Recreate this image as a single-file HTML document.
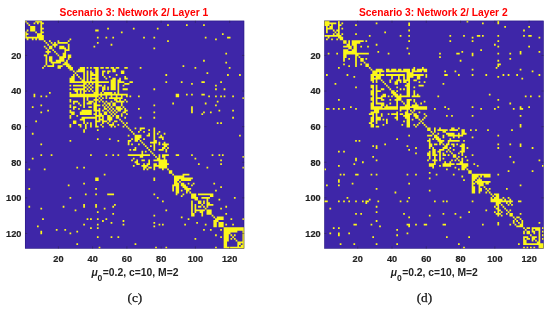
<!DOCTYPE html><html><head><meta charset="utf-8"><title>Scenario 3</title><style>html,body{margin:0;padding:0;background:#fff}svg{display:block}text{font-family:"Liberation Sans",sans-serif;font-weight:bold;fill:#222}</style></head><body>
<svg width="550" height="310" viewBox="0 0 550 310">
<rect width="550" height="310" fill="#fff"/>
<rect x="25.0" y="20.7" width="219.20" height="227.90" fill="#3E26A8"/>
<path fill="#FBF71A" d="M25.00 20.70H26.71V22.48H25.00zM35.27 20.70H42.12V22.48H35.27zM26.71 22.48H28.43V24.26H26.71zM33.56 22.48H35.27V24.26H33.56zM36.99 22.48H38.70V24.26H36.99zM40.41 22.48H43.84V24.26H40.41zM28.43 24.26H30.14V26.04H28.43zM40.41 24.26H42.12V26.04H40.41zM167.14 24.26H168.85V26.04H167.14zM185.97 24.26H187.69V26.04H185.97zM203.10 24.26H204.81V26.04H203.10zM30.14 26.04H35.27V27.82H30.14zM40.41 26.04H42.12V27.82H40.41zM30.14 27.82H35.27V29.60H30.14zM40.41 27.82H43.84V29.60H40.41zM107.20 27.82H108.91V29.60H107.20zM132.89 27.82H134.60V29.60H132.89zM156.86 27.82H158.57V29.60H156.86zM26.71 29.60H28.43V31.38H26.71zM30.14 29.60H35.27V31.38H30.14zM40.41 29.60H42.12V31.38H40.41zM95.21 29.60H98.64V31.38H95.21zM25.00 31.38H26.71V33.16H25.00zM35.27 31.38H36.99V33.16H35.27zM40.41 31.38H43.84V33.16H40.41zM120.90 31.38H122.61V33.16H120.90zM25.00 33.16H28.43V34.94H25.00zM36.99 33.16H42.12V34.94H36.99zM221.94 33.16H223.65V34.94H221.94zM25.00 34.94H26.71V36.72H25.00zM36.99 34.94H43.84V36.72H36.99zM25.00 36.72H43.84V38.50H25.00zM96.92 36.72H98.64V38.50H96.92zM105.49 36.72H107.20V38.50H105.49zM112.34 36.72H114.05V38.50H112.34zM143.16 36.72H144.88V38.50H143.16zM153.44 36.72H155.15V38.50H153.44zM204.81 36.72H206.52V38.50H204.81zM227.07 36.72H230.50V38.50H227.07zM26.71 38.50H28.43V40.29H26.71zM31.85 38.50H33.56V40.29H31.85zM35.27 38.50H36.99V40.29H35.27zM38.70 38.50H43.84V40.29H38.70zM69.53 38.50H71.24V40.29H69.53zM215.09 38.50H216.80V40.29H215.09zM43.84 40.29H45.55V42.07H43.84zM48.97 40.29H50.69V42.07H48.97zM57.54 40.29H59.25V42.07H57.54zM67.81 40.29H69.53V42.07H67.81zM167.14 40.29H168.85V42.07H167.14zM45.55 42.07H47.26V43.85H45.55zM50.69 42.07H52.40V43.85H50.69zM54.11 42.07H55.83V43.85H54.11zM57.54 42.07H67.81V43.85H57.54zM96.92 42.07H98.64V43.85H96.92zM47.26 43.85H48.97V45.63H47.26zM52.40 43.85H57.54V45.63H52.40zM67.81 43.85H69.53V45.63H67.81zM110.62 43.85H112.34V45.63H110.62zM43.84 45.63H45.55V47.41H43.84zM48.97 45.63H52.40V47.41H48.97zM54.11 45.63H55.83V47.41H54.11zM59.25 45.63H64.39V47.41H59.25zM67.81 45.63H69.53V47.41H67.81zM93.50 45.63H95.21V47.41H93.50zM45.55 47.41H47.26V49.19H45.55zM48.97 47.41H52.40V49.19H48.97zM59.25 47.41H66.10V49.19H59.25zM67.81 47.41H69.53V49.19H67.81zM153.44 47.41H155.15V49.19H153.44zM47.26 49.19H48.97V50.97H47.26zM52.40 49.19H54.11V50.97H52.40zM64.39 49.19H69.53V50.97H64.39zM45.55 50.97H50.69V52.75H45.55zM54.11 50.97H55.83V52.75H54.11zM64.39 50.97H66.10V52.75H64.39zM47.26 52.75H48.97V54.53H47.26zM55.83 52.75H57.54V54.53H55.83zM62.67 52.75H66.10V54.53H62.67zM225.36 52.75H227.07V54.53H225.36zM43.84 54.53H47.26V56.31H43.84zM57.54 54.53H59.25V56.31H57.54zM62.67 54.53H66.10V56.31H62.67zM67.81 54.53H71.24V56.31H67.81zM45.55 56.31H47.26V58.09H45.55zM48.97 56.31H52.40V58.09H48.97zM59.25 56.31H66.10V58.09H59.25zM67.81 56.31H71.24V58.09H67.81zM45.55 58.09H47.26V59.87H45.55zM48.97 58.09H52.40V59.87H48.97zM59.25 58.09H64.39V59.87H59.25zM67.81 58.09H69.53V59.87H67.81zM45.55 59.87H47.26V61.65H45.55zM48.97 59.87H52.40V61.65H48.97zM55.83 59.87H64.39V61.65H55.83zM66.10 59.87H67.81V61.65H66.10zM203.10 59.87H204.81V61.65H203.10zM45.55 61.65H47.26V63.43H45.55zM50.69 61.65H60.96V63.43H50.69zM64.39 61.65H67.81V63.43H64.39zM225.36 61.65H227.07V63.43H225.36zM45.55 63.43H47.26V65.21H45.55zM52.40 63.43H54.11V65.21H52.40zM62.67 63.43H69.53V65.21H62.67zM43.84 65.21H45.55V66.99H43.84zM47.26 65.21H54.11V66.99H47.26zM57.54 65.21H62.67V66.99H57.54zM66.10 65.21H71.24V66.99H66.10zM182.55 65.21H184.26V66.99H182.55zM42.12 66.99H43.84V68.77H42.12zM57.54 66.99H60.96V68.77H57.54zM67.81 66.99H72.95V68.77H67.81zM79.80 66.99H84.94V68.77H79.80zM86.65 66.99H88.36V68.77H86.65zM90.08 66.99H91.79V68.77H90.08zM93.50 66.99H98.64V68.77H93.50zM100.35 66.99H103.77V68.77H100.35zM105.49 66.99H108.91V68.77H105.49zM110.62 66.99H114.05V68.77H110.62zM115.76 66.99H119.19V68.77H115.76zM124.32 66.99H127.75V68.77H124.32zM139.74 66.99H141.45V68.77H139.74zM194.54 66.99H196.25V68.77H194.54zM228.79 66.99H230.50V68.77H228.79zM69.53 68.77H72.95V70.55H69.53zM78.09 68.77H84.94V70.55H78.09zM95.21 68.77H98.64V70.55H95.21zM112.34 68.77H115.76V70.55H112.34zM72.95 70.55H74.66V72.33H72.95zM76.38 70.55H84.94V72.33H76.38zM86.65 70.55H88.36V72.33H86.65zM90.08 70.55H91.79V72.33H90.08zM95.21 70.55H98.64V72.33H95.21zM102.06 70.55H105.49V72.33H102.06zM107.20 70.55H110.62V72.33H107.20zM112.34 70.55H115.76V72.33H112.34zM120.90 70.55H124.32V72.33H120.90zM74.66 72.33H76.38V74.11H74.66zM83.22 72.33H84.94V74.11H83.22zM86.65 72.33H88.36V74.11H86.65zM90.08 72.33H93.50V74.11H90.08zM95.21 72.33H98.64V74.11H95.21zM102.06 72.33H103.77V74.11H102.06zM107.20 72.33H108.91V74.11H107.20zM120.90 72.33H124.32V74.11H120.90zM206.52 72.33H208.24V74.11H206.52zM72.95 74.11H74.66V75.89H72.95zM76.38 74.11H78.09V75.89H76.38zM83.22 74.11H84.94V75.89H83.22zM86.65 74.11H88.36V75.89H86.65zM90.08 74.11H98.64V75.89H90.08zM102.06 74.11H103.77V75.89H102.06zM115.76 74.11H117.47V75.89H115.76zM165.42 74.11H167.14V75.89H165.42zM227.07 74.11H228.79V75.89H227.07zM239.06 74.11H240.77V75.89H239.06zM71.24 75.89H74.66V77.67H71.24zM78.09 75.89H79.80V77.67H78.09zM83.22 75.89H84.94V77.67H83.22zM86.65 75.89H88.36V77.67H86.65zM90.08 75.89H91.79V77.67H90.08zM95.21 75.89H98.64V77.67H95.21zM103.77 75.89H105.49V77.67H103.77zM108.91 75.89H110.62V77.67H108.91zM124.32 75.89H126.04V77.67H124.32zM69.53 77.67H74.66V79.46H69.53zM79.80 77.67H81.51V79.46H79.80zM83.22 77.67H84.94V79.46H83.22zM86.65 77.67H88.36V79.46H86.65zM90.08 77.67H98.64V79.46H90.08zM105.49 77.67H107.20V79.46H105.49zM112.34 77.67H115.76V79.46H112.34zM119.19 77.67H120.90V79.46H119.19zM124.32 77.67H127.75V79.46H124.32zM69.53 79.46H74.66V81.24H69.53zM81.51 79.46H84.94V81.24H81.51zM86.65 79.46H88.36V81.24H86.65zM90.08 79.46H91.79V81.24H90.08zM95.21 79.46H98.64V81.24H95.21zM110.62 79.46H115.76V81.24H110.62zM117.47 79.46H120.90V81.24H117.47zM69.53 81.24H108.91V83.02H69.53zM110.62 81.24H115.76V83.02H110.62zM117.47 81.24H124.32V83.02H117.47zM129.46 81.24H132.89V83.02H129.46zM165.42 81.24H167.14V83.02H165.42zM180.84 81.24H182.55V83.02H180.84zM201.39 81.24H204.81V83.02H201.39zM220.22 81.24H221.94V83.02H220.22zM83.22 83.02H86.65V84.80H83.22zM88.36 83.02H90.08V84.80H88.36zM91.79 83.02H93.50V84.80H91.79zM95.21 83.02H98.64V84.80H95.21zM110.62 83.02H115.76V84.80H110.62zM117.47 83.02H119.19V84.80H117.47zM124.32 83.02H129.46V84.80H124.32zM191.11 83.02H192.82V84.80H191.11zM69.53 84.80H71.24V86.58H69.53zM72.95 84.80H84.94V86.58H72.95zM86.65 84.80H88.36V86.58H86.65zM90.08 84.80H91.79V86.58H90.08zM95.21 84.80H102.06V86.58H95.21zM103.77 84.80H105.49V86.58H103.77zM110.62 84.80H115.76V86.58H110.62zM117.47 84.80H119.19V86.58H117.47zM122.61 84.80H124.32V86.58H122.61zM215.09 84.80H216.80V86.58H215.09zM83.22 86.58H86.65V88.36H83.22zM88.36 86.58H90.08V88.36H88.36zM91.79 86.58H93.50V88.36H91.79zM95.21 86.58H98.64V88.36H95.21zM102.06 86.58H105.49V88.36H102.06zM107.20 86.58H108.91V88.36H107.20zM110.62 86.58H115.76V88.36H110.62zM117.47 86.58H119.19V88.36H117.47zM69.53 88.36H71.24V90.14H69.53zM72.95 88.36H84.94V90.14H72.95zM86.65 88.36H88.36V90.14H86.65zM90.08 88.36H91.79V90.14H90.08zM95.21 88.36H98.64V90.14H95.21zM102.06 88.36H105.49V90.14H102.06zM107.20 88.36H108.91V90.14H107.20zM110.62 88.36H115.76V90.14H110.62zM117.47 88.36H119.19V90.14H117.47zM122.61 88.36H127.75V90.14H122.61zM153.44 88.36H155.15V90.14H153.44zM215.09 88.36H216.80V90.14H215.09zM223.65 88.36H225.36V90.14H223.65zM74.66 90.14H78.09V91.92H74.66zM79.80 90.14H81.51V91.92H79.80zM83.22 90.14H86.65V91.92H83.22zM88.36 90.14H90.08V91.92H88.36zM91.79 90.14H93.50V91.92H91.79zM95.21 90.14H98.64V91.92H95.21zM102.06 90.14H103.77V91.92H102.06zM117.47 90.14H119.19V91.92H117.47zM48.97 91.92H50.69V93.70H48.97zM69.53 91.92H71.24V93.70H69.53zM76.38 91.92H78.09V93.70H76.38zM79.80 91.92H81.51V93.70H79.80zM83.22 91.92H84.94V93.70H83.22zM93.50 91.92H98.64V93.70H93.50zM100.35 91.92H102.06V93.70H100.35zM103.77 91.92H112.34V93.70H103.77zM114.05 91.92H115.76V93.70H114.05zM117.47 91.92H119.19V93.70H117.47zM33.56 93.70H35.27V95.48H33.56zM69.53 93.70H127.75V95.48H69.53zM175.70 93.70H179.12V95.48H175.70zM185.97 93.70H187.69V95.48H185.97zM191.11 93.70H192.82V95.48H191.11zM201.39 93.70H204.81V95.48H201.39zM33.56 95.48H35.27V97.26H33.56zM40.41 95.48H42.12V97.26H40.41zM45.55 95.48H47.26V97.26H45.55zM69.53 95.48H98.64V97.26H69.53zM100.35 95.48H102.06V97.26H100.35zM105.49 95.48H107.20V97.26H105.49zM110.62 95.48H112.34V97.26H110.62zM115.76 95.48H117.47V97.26H115.76zM120.90 95.48H122.61V97.26H120.90zM126.04 95.48H127.75V97.26H126.04zM129.46 95.48H131.18V97.26H129.46zM138.02 95.48H139.74V97.26H138.02zM175.70 95.48H179.12V97.26H175.70zM208.24 95.48H209.95V97.26H208.24zM215.09 95.48H216.80V97.26H215.09zM220.22 95.48H221.94V97.26H220.22zM223.65 95.48H225.36V97.26H223.65zM232.21 95.48H233.92V97.26H232.21zM83.22 97.26H84.94V99.04H83.22zM86.65 97.26H88.36V99.04H86.65zM95.21 97.26H96.92V99.04H95.21zM98.64 97.26H100.35V99.04H98.64zM102.06 97.26H103.77V99.04H102.06zM105.49 97.26H107.20V99.04H105.49zM108.91 97.26H122.61V99.04H108.91zM242.49 97.26H244.20V99.04H242.49zM69.53 99.04H71.24V100.82H69.53zM83.22 99.04H84.94V100.82H83.22zM86.65 99.04H88.36V100.82H86.65zM93.50 99.04H98.64V100.82H93.50zM100.35 99.04H102.06V100.82H100.35zM114.05 99.04H117.47V100.82H114.05zM119.19 99.04H120.90V100.82H119.19zM124.32 99.04H126.04V100.82H124.32zM69.53 100.82H71.24V102.60H69.53zM72.95 100.82H78.09V102.60H72.95zM83.22 100.82H84.94V102.60H83.22zM88.36 100.82H93.50V102.60H88.36zM95.21 100.82H96.92V102.60H95.21zM98.64 100.82H100.35V102.60H98.64zM102.06 100.82H103.77V102.60H102.06zM105.49 100.82H107.20V102.60H105.49zM110.62 100.82H112.34V102.60H110.62zM115.76 100.82H124.32V102.60H115.76zM126.04 100.82H127.75V102.60H126.04zM216.80 100.82H218.51V102.60H216.80zM72.95 102.60H74.66V104.38H72.95zM78.09 102.60H79.80V104.38H78.09zM83.22 102.60H84.94V104.38H83.22zM86.65 102.60H91.79V104.38H86.65zM93.50 102.60H96.92V104.38H93.50zM103.77 102.60H105.49V104.38H103.77zM107.20 102.60H110.62V104.38H107.20zM112.34 102.60H115.76V104.38H112.34zM120.90 102.60H122.61V104.38H120.90zM172.28 102.60H173.99V104.38H172.28zM204.81 102.60H206.52V104.38H204.81zM40.41 104.38H42.12V106.16H40.41zM69.53 104.38H71.24V106.16H69.53zM79.80 104.38H81.51V106.16H79.80zM83.22 104.38H84.94V106.16H83.22zM93.50 104.38H100.35V106.16H93.50zM102.06 104.38H103.77V106.16H102.06zM105.49 104.38H107.20V106.16H105.49zM108.91 104.38H110.62V106.16H108.91zM112.34 104.38H115.76V106.16H112.34zM120.90 104.38H122.61V106.16H120.90zM153.44 104.38H155.15V106.16H153.44zM215.09 104.38H216.80V106.16H215.09zM31.85 106.16H33.56V107.94H31.85zM69.53 106.16H71.24V107.94H69.53zM72.95 106.16H76.38V107.94H72.95zM83.22 106.16H84.94V107.94H83.22zM88.36 106.16H91.79V107.94H88.36zM93.50 106.16H96.92V107.94H93.50zM103.77 106.16H105.49V107.94H103.77zM107.20 106.16H108.91V107.94H107.20zM110.62 106.16H112.34V107.94H110.62zM115.76 106.16H120.90V107.94H115.76zM122.61 106.16H124.32V107.94H122.61zM191.11 106.16H192.82V107.94H191.11zM72.95 107.94H74.66V109.72H72.95zM78.09 107.94H79.80V109.72H78.09zM93.50 107.94H96.92V109.72H93.50zM98.64 107.94H100.35V109.72H98.64zM103.77 107.94H107.20V109.72H103.77zM108.91 107.94H110.62V109.72H108.91zM112.34 107.94H114.05V109.72H112.34zM115.76 107.94H122.61V109.72H115.76zM124.32 107.94H126.04V109.72H124.32zM138.02 107.94H139.74V109.72H138.02zM191.11 107.94H192.82V109.72H191.11zM47.26 109.72H48.97V111.50H47.26zM69.53 109.72H71.24V111.50H69.53zM81.51 109.72H91.79V111.50H81.51zM93.50 109.72H100.35V111.50H93.50zM102.06 109.72H103.77V111.50H102.06zM107.20 109.72H108.91V111.50H107.20zM110.62 109.72H112.34V111.50H110.62zM114.05 109.72H115.76V111.50H114.05zM117.47 109.72H120.90V111.50H117.47zM124.32 109.72H127.75V111.50H124.32zM191.11 109.72H192.82V111.50H191.11zM218.51 109.72H220.22V111.50H218.51zM232.21 109.72H233.92V111.50H232.21zM40.41 111.50H42.12V113.28H40.41zM69.53 111.50H74.66V113.28H69.53zM79.80 111.50H91.79V113.28H79.80zM95.21 111.50H96.92V113.28H95.21zM98.64 111.50H100.35V113.28H98.64zM103.77 111.50H107.20V113.28H103.77zM108.91 111.50H110.62V113.28H108.91zM112.34 111.50H114.05V113.28H112.34zM115.76 111.50H117.47V113.28H115.76zM122.61 111.50H126.04V113.28H122.61zM153.44 111.50H155.15V113.28H153.44zM191.11 111.50H192.82V113.28H191.11zM203.10 111.50H204.81V113.28H203.10zM209.95 111.50H211.66V113.28H209.95zM71.24 113.28H74.66V115.06H71.24zM79.80 113.28H91.79V115.06H79.80zM93.50 113.28H96.92V115.06H93.50zM98.64 113.28H102.06V115.06H98.64zM103.77 113.28H107.20V115.06H103.77zM110.62 113.28H112.34V115.06H110.62zM114.05 113.28H115.76V115.06H114.05zM120.90 113.28H122.61V115.06H120.90zM126.04 113.28H127.75V115.06H126.04zM201.39 113.28H203.10V115.06H201.39zM69.53 115.06H71.24V116.85H69.53zM76.38 115.06H78.09V116.85H76.38zM95.21 115.06H103.77V116.85H95.21zM107.20 115.06H110.62V116.85H107.20zM112.34 115.06H114.05V116.85H112.34zM115.76 115.06H119.19V116.85H115.76zM120.90 115.06H122.61V116.85H120.90zM69.53 116.85H71.24V118.63H69.53zM81.51 116.85H96.92V118.63H81.51zM98.64 116.85H100.35V118.63H98.64zM102.06 116.85H103.77V118.63H102.06zM107.20 116.85H112.34V118.63H107.20zM115.76 116.85H119.19V118.63H115.76zM124.32 116.85H126.04V118.63H124.32zM139.74 116.85H141.45V118.63H139.74zM153.44 116.85H155.15V118.63H153.44zM232.21 116.85H233.92V118.63H232.21zM79.80 118.63H84.94V120.41H79.80zM95.21 118.63H96.92V120.41H95.21zM98.64 118.63H103.77V120.41H98.64zM107.20 118.63H112.34V120.41H107.20zM119.19 118.63H120.90V120.41H119.19zM35.27 120.41H36.99V122.19H35.27zM72.95 120.41H76.38V122.19H72.95zM83.22 120.41H84.94V122.19H83.22zM95.21 120.41H100.35V122.19H95.21zM102.06 120.41H107.20V122.19H102.06zM108.91 120.41H110.62V122.19H108.91zM114.05 120.41H117.47V122.19H114.05zM120.90 120.41H122.61V122.19H120.90zM72.95 122.19H76.38V123.97H72.95zM83.22 122.19H84.94V123.97H83.22zM86.65 122.19H88.36V123.97H86.65zM90.08 122.19H91.79V123.97H90.08zM95.21 122.19H96.92V123.97H95.21zM102.06 122.19H103.77V123.97H102.06zM107.20 122.19H108.91V123.97H107.20zM112.34 122.19H114.05V123.97H112.34zM122.61 122.19H124.32V123.97H122.61zM126.04 122.19H127.75V123.97H126.04zM216.80 122.19H218.51V123.97H216.80zM220.22 122.19H221.94V123.97H220.22zM69.53 123.97H71.24V125.75H69.53zM78.09 123.97H81.51V125.75H78.09zM84.94 123.97H86.65V125.75H84.94zM90.08 123.97H91.79V125.75H90.08zM95.21 123.97H96.92V125.75H95.21zM100.35 123.97H102.06V125.75H100.35zM108.91 123.97H114.05V125.75H108.91zM117.47 123.97H119.19V125.75H117.47zM124.32 123.97H126.04V125.75H124.32zM69.53 125.75H71.24V127.53H69.53zM79.80 125.75H81.51V127.53H79.80zM84.94 125.75H86.65V127.53H84.94zM90.08 125.75H91.79V127.53H90.08zM95.21 125.75H98.64V127.53H95.21zM102.06 125.75H103.77V127.53H102.06zM110.62 125.75H112.34V127.53H110.62zM114.05 125.75H115.76V127.53H114.05zM122.61 125.75H124.32V127.53H122.61zM126.04 125.75H127.75V127.53H126.04zM84.94 127.53H86.65V129.31H84.94zM127.75 127.53H129.46V129.31H127.75zM134.60 127.53H136.31V129.31H134.60zM139.74 127.53H144.88V129.31H139.74zM153.44 127.53H155.15V129.31H153.44zM83.22 129.31H84.94V131.09H83.22zM96.92 129.31H98.64V131.09H96.92zM129.46 129.31H131.18V131.09H129.46zM139.74 129.31H141.45V131.09H139.74zM148.30 129.31H150.01V131.09H148.30zM153.44 129.31H155.15V131.09H153.44zM83.22 131.09H84.94V132.87H83.22zM131.18 131.09H132.89V132.87H131.18zM138.02 131.09H139.74V132.87H138.02zM143.16 131.09H144.88V132.87H143.16zM153.44 131.09H155.15V132.87H153.44zM158.57 131.09H160.29V132.87H158.57zM31.85 132.87H33.56V134.65H31.85zM132.89 132.87H134.60V134.65H132.89zM148.30 132.87H150.01V134.65H148.30zM153.44 132.87H155.15V134.65H153.44zM156.86 132.87H158.57V134.65H156.86zM163.71 132.87H165.42V134.65H163.71zM127.75 134.65H129.46V136.43H127.75zM134.60 134.65H141.45V136.43H134.60zM146.59 134.65H150.01V136.43H146.59zM153.44 134.65H155.15V136.43H153.44zM160.29 134.65H162.00V136.43H160.29zM239.06 134.65H240.77V136.43H239.06zM134.60 136.43H141.45V138.21H134.60zM153.44 136.43H155.15V138.21H153.44zM158.57 136.43H163.71V138.21H158.57zM96.92 138.21H98.64V139.99H96.92zM108.91 138.21H110.62V139.99H108.91zM131.18 138.21H132.89V139.99H131.18zM134.60 138.21H139.74V139.99H134.60zM143.16 138.21H144.88V139.99H143.16zM153.44 138.21H155.15V139.99H153.44zM162.00 138.21H163.71V139.99H162.00zM69.53 139.99H71.24V141.77H69.53zM117.47 139.99H119.19V141.77H117.47zM127.75 139.99H131.18V141.77H127.75zM134.60 139.99H138.02V141.77H134.60zM139.74 139.99H141.45V141.77H139.74zM153.44 139.99H156.86V141.77H153.44zM127.75 141.77H129.46V143.55H127.75zM141.45 141.77H143.16V143.55H141.45zM150.01 141.77H156.86V143.55H150.01zM158.57 141.77H160.29V143.55H158.57zM163.71 141.77H165.42V143.55H163.71zM40.41 143.55H42.12V145.33H40.41zM127.75 143.55H129.46V145.33H127.75zM131.18 143.55H132.89V145.33H131.18zM138.02 143.55H139.74V145.33H138.02zM143.16 143.55H144.88V145.33H143.16zM153.44 143.55H155.15V145.33H153.44zM158.57 143.55H160.29V145.33H158.57zM162.00 143.55H168.85V145.33H162.00zM144.88 145.33H146.59V147.11H144.88zM150.01 145.33H151.72V147.11H150.01zM153.44 145.33H155.15V147.11H153.44zM163.71 145.33H167.14V147.11H163.71zM134.60 147.11H136.31V148.89H134.60zM146.59 147.11H148.30V148.89H146.59zM153.44 147.11H155.15V148.89H153.44zM162.00 147.11H165.42V148.89H162.00zM167.14 147.11H168.85V148.89H167.14zM129.46 148.89H131.18V150.67H129.46zM132.89 148.89H136.31V150.67H132.89zM148.30 148.89H150.01V150.67H148.30zM153.44 148.89H155.15V150.67H153.44zM158.57 148.89H163.71V150.67H158.57zM165.42 148.89H167.14V150.67H165.42zM141.45 150.67H143.16V152.45H141.45zM144.88 150.67H146.59V152.45H144.88zM150.01 150.67H151.72V152.45H150.01zM165.42 150.67H167.14V152.45H165.42zM141.45 152.45H143.16V154.24H141.45zM151.72 152.45H153.44V154.24H151.72zM40.41 154.24H42.12V156.02H40.41zM50.69 154.24H52.40V156.02H50.69zM90.08 154.24H91.79V156.02H90.08zM105.49 154.24H107.20V156.02H105.49zM112.34 154.24H114.05V156.02H112.34zM117.47 154.24H119.19V156.02H117.47zM127.75 154.24H150.01V156.02H127.75zM153.44 154.24H155.15V156.02H153.44zM158.57 154.24H160.29V156.02H158.57zM162.00 154.24H168.85V156.02H162.00zM175.70 154.24H179.12V156.02H175.70zM191.11 154.24H192.82V156.02H191.11zM211.66 154.24H213.38V156.02H211.66zM218.51 154.24H220.22V156.02H218.51zM221.94 154.24H223.65V156.02H221.94zM139.74 156.02H143.16V157.80H139.74zM155.15 156.02H156.86V157.80H155.15zM158.57 156.02H160.29V157.80H158.57zM162.00 156.02H165.42V157.80H162.00zM242.49 156.02H244.20V157.80H242.49zM31.85 157.80H33.56V159.58H31.85zM132.89 157.80H134.60V159.58H132.89zM156.86 157.80H160.29V159.58H156.86zM163.71 157.80H165.42V159.58H163.71zM194.54 157.80H196.25V159.58H194.54zM131.18 159.58H132.89V161.36H131.18zM136.31 159.58H138.02V161.36H136.31zM141.45 159.58H144.88V161.36H141.45zM148.30 159.58H150.01V161.36H148.30zM153.44 159.58H167.14V161.36H153.44zM220.22 159.58H221.94V161.36H220.22zM134.60 161.36H138.02V163.14H134.60zM148.30 161.36H150.01V163.14H148.30zM158.57 161.36H167.14V163.14H158.57zM136.31 163.14H139.74V164.92H136.31zM143.16 163.14H144.88V164.92H143.16zM146.59 163.14H150.01V164.92H146.59zM153.44 163.14H156.86V164.92H153.44zM158.57 163.14H168.85V164.92H158.57zM197.96 163.14H199.67V164.92H197.96zM220.22 163.14H221.94V164.92H220.22zM132.89 164.92H134.60V166.70H132.89zM141.45 164.92H148.30V166.70H141.45zM153.44 164.92H167.14V166.70H153.44zM76.38 166.70H78.09V168.48H76.38zM83.22 166.70H84.94V168.48H83.22zM143.16 166.70H146.59V168.48H143.16zM148.30 166.70H151.72V168.48H148.30zM153.44 166.70H155.15V168.48H153.44zM158.57 166.70H167.14V168.48H158.57zM206.52 166.70H208.24V168.48H206.52zM242.49 166.70H244.20V168.48H242.49zM28.43 168.48H30.14V170.26H28.43zM43.84 168.48H45.55V170.26H43.84zM143.16 168.48H144.88V170.26H143.16zM146.59 168.48H148.30V170.26H146.59zM153.44 168.48H155.15V170.26H153.44zM162.00 168.48H163.71V170.26H162.00zM167.14 168.48H168.85V170.26H167.14zM168.85 170.26H172.28V172.04H168.85zM168.85 172.04H172.28V173.82H168.85zM103.77 173.82H105.49V175.60H103.77zM172.28 173.82H173.99V175.60H172.28zM182.55 173.82H189.40V175.60H182.55zM173.99 175.60H184.26V177.38H173.99zM95.21 177.38H98.64V179.16H95.21zM153.44 177.38H155.15V179.16H153.44zM173.99 177.38H192.82V179.16H173.99zM95.21 179.16H98.64V180.94H95.21zM153.44 179.16H155.15V180.94H153.44zM173.99 179.16H179.12V180.94H173.99zM180.84 179.16H191.11V180.94H180.84zM173.99 180.94H177.41V182.72H173.99zM179.12 180.94H180.84V182.72H179.12zM83.22 182.72H84.94V184.50H83.22zM173.99 182.72H179.12V184.50H173.99zM180.84 182.72H184.26V184.50H180.84zM187.69 182.72H189.40V184.50H187.69zM192.82 182.72H194.54V184.50H192.82zM213.38 182.72H215.09V184.50H213.38zM67.81 184.50H69.53V186.28H67.81zM172.28 184.50H179.12V186.28H172.28zM180.84 184.50H185.97V186.28H180.84zM191.11 184.50H192.82V186.28H191.11zM172.28 186.28H173.99V188.06H172.28zM175.70 186.28H179.12V188.06H175.70zM182.55 186.28H187.69V188.06H182.55zM220.22 186.28H221.94V188.06H220.22zM28.43 188.06H30.14V189.84H28.43zM95.21 188.06H96.92V189.84H95.21zM172.28 188.06H173.99V189.84H172.28zM175.70 188.06H179.12V189.84H175.70zM184.26 188.06H191.11V189.84H184.26zM172.28 189.84H173.99V191.62H172.28zM175.70 189.84H179.12V191.62H175.70zM180.84 189.84H182.55V191.62H180.84zM185.97 189.84H189.40V191.62H185.97zM215.09 189.84H216.80V191.62H215.09zM175.70 191.62H179.12V193.41H175.70zM185.97 191.62H187.69V193.41H185.97zM189.40 191.62H191.11V193.41H189.40zM84.94 193.41H86.65V195.19H84.94zM95.21 193.41H96.92V195.19H95.21zM107.20 193.41H114.05V195.19H107.20zM153.44 193.41H155.15V195.19H153.44zM175.70 193.41H177.41V195.19H175.70zM182.55 193.41H184.26V195.19H182.55zM191.11 193.41H196.25V195.19H191.11zM197.96 193.41H213.38V195.19H197.96zM180.84 195.19H182.55V196.97H180.84zM191.11 195.19H196.25V196.97H191.11zM209.95 195.19H213.38V196.97H209.95zM69.53 196.97H71.24V198.75H69.53zM156.86 196.97H158.57V198.75H156.86zM191.11 196.97H197.96V198.75H191.11zM201.39 196.97H209.95V198.75H201.39zM233.92 196.97H235.64V198.75H233.92zM194.54 198.75H197.96V200.53H194.54zM206.52 198.75H208.24V200.53H206.52zM218.51 198.75H220.22V200.53H218.51zM162.00 200.53H163.71V202.31H162.00zM191.11 200.53H192.82V202.31H191.11zM197.96 200.53H201.39V202.31H197.96zM203.10 200.53H204.81V202.31H203.10zM206.52 200.53H208.24V202.31H206.52zM191.11 202.31H192.82V204.09H191.11zM197.96 202.31H201.39V204.09H197.96zM203.10 202.31H204.81V204.09H203.10zM206.52 202.31H209.95V204.09H206.52zM83.22 204.09H84.94V205.87H83.22zM95.21 204.09H96.92V205.87H95.21zM114.05 204.09H115.76V205.87H114.05zM191.11 204.09H192.82V205.87H191.11zM194.54 204.09H196.25V205.87H194.54zM201.39 204.09H203.10V205.87H201.39zM206.52 204.09H213.38V205.87H206.52zM28.43 205.87H30.14V207.65H28.43zM62.67 205.87H64.39V207.65H62.67zM83.22 205.87H84.94V207.65H83.22zM95.21 205.87H96.92V207.65H95.21zM112.34 205.87H114.05V207.65H112.34zM191.11 205.87H192.82V207.65H191.11zM194.54 205.87H196.25V207.65H194.54zM197.96 205.87H201.39V207.65H197.96zM203.10 205.87H204.81V207.65H203.10zM206.52 205.87H208.24V207.65H206.52zM225.36 205.87H227.07V207.65H225.36zM40.41 207.65H42.12V209.43H40.41zM103.77 207.65H105.49V209.43H103.77zM191.11 207.65H192.82V209.43H191.11zM194.54 207.65H196.25V209.43H194.54zM204.81 207.65H206.52V209.43H204.81zM220.22 207.65H221.94V209.43H220.22zM74.66 209.43H76.38V211.21H74.66zM165.42 209.43H167.14V211.21H165.42zM191.11 209.43H192.82V211.21H191.11zM194.54 209.43H204.81V211.21H194.54zM206.52 209.43H211.66V211.21H206.52zM96.92 211.21H98.64V212.99H96.92zM191.11 211.21H192.82V212.99H191.11zM194.54 211.21H196.25V212.99H194.54zM199.67 211.21H203.10V212.99H199.67zM206.52 211.21H211.66V212.99H206.52zM112.34 212.99H114.05V214.77H112.34zM191.11 212.99H194.54V214.77H191.11zM201.39 212.99H203.10V214.77H201.39zM206.52 212.99H211.66V214.77H206.52zM225.36 212.99H227.07V214.77H225.36zM153.44 214.77H155.15V216.55H153.44zM191.11 214.77H194.54V216.55H191.11zM201.39 214.77H203.10V216.55H201.39zM211.66 214.77H213.38V216.55H211.66zM180.84 216.55H182.55V218.33H180.84zM213.38 216.55H215.09V218.33H213.38zM216.80 216.55H223.65V218.33H216.80zM42.12 218.33H43.84V220.11H42.12zM86.65 218.33H88.36V220.11H86.65zM90.08 218.33H91.79V220.11H90.08zM96.92 218.33H98.64V220.11H96.92zM105.49 218.33H107.20V220.11H105.49zM187.69 218.33H189.40V220.11H187.69zM215.09 218.33H223.65V220.11H215.09zM230.50 218.33H232.21V220.11H230.50zM242.49 218.33H244.20V220.11H242.49zM102.06 220.11H103.77V221.89H102.06zM122.61 220.11H124.32V221.89H122.61zM213.38 220.11H218.51V221.89H213.38zM110.62 221.89H112.34V223.67H110.62zM153.44 221.89H155.15V223.67H153.44zM196.25 221.89H197.96V223.67H196.25zM213.38 221.89H216.80V223.67H213.38zM218.51 221.89H223.65V223.67H218.51zM83.22 223.67H84.94V225.45H83.22zM96.92 223.67H98.64V225.45H96.92zM122.61 223.67H124.32V225.45H122.61zM158.57 223.67H160.29V225.45H158.57zM162.00 223.67H163.71V225.45H162.00zM184.26 223.67H185.97V225.45H184.26zM204.81 223.67H206.52V225.45H204.81zM213.38 223.67H216.80V225.45H213.38zM218.51 223.67H223.65V225.45H218.51zM225.36 223.67H227.07V225.45H225.36zM232.21 223.67H233.92V225.45H232.21zM36.99 225.45H38.70V227.23H36.99zM153.44 225.45H155.15V227.23H153.44zM213.38 225.45H216.80V227.23H213.38zM218.51 225.45H223.65V227.23H218.51zM90.08 227.23H91.79V229.01H90.08zM96.92 227.23H98.64V229.01H96.92zM223.65 227.23H244.20V229.01H223.65zM55.83 229.01H57.54V230.80H55.83zM64.39 229.01H66.10V230.80H64.39zM203.10 229.01H204.81V230.80H203.10zM209.95 229.01H211.66V230.80H209.95zM220.22 229.01H221.94V230.80H220.22zM223.65 229.01H244.20V230.80H223.65zM40.41 230.80H42.12V232.58H40.41zM76.38 230.80H78.09V232.58H76.38zM223.65 230.80H237.35V232.58H223.65zM242.49 230.80H244.20V232.58H242.49zM40.41 232.58H42.12V234.36H40.41zM69.53 232.58H71.24V234.36H69.53zM223.65 232.58H230.50V234.36H223.65zM242.49 232.58H244.20V234.36H242.49zM215.09 234.36H216.80V236.14H215.09zM223.65 234.36H228.79V236.14H223.65zM230.50 234.36H232.21V236.14H230.50zM233.92 234.36H235.64V236.14H233.92zM242.49 234.36H244.20V236.14H242.49zM96.92 236.14H98.64V237.92H96.92zM110.62 236.14H112.34V237.92H110.62zM117.47 236.14H119.19V237.92H117.47zM220.22 236.14H221.94V237.92H220.22zM223.65 236.14H228.79V237.92H223.65zM232.21 236.14H233.92V237.92H232.21zM242.49 236.14H244.20V237.92H242.49zM194.54 237.92H196.25V239.70H194.54zM223.65 237.92H228.79V239.70H223.65zM230.50 237.92H232.21V239.70H230.50zM233.92 237.92H235.64V239.70H233.92zM242.49 237.92H244.20V239.70H242.49zM223.65 239.70H228.79V241.48H223.65zM235.64 239.70H237.35V241.48H235.64zM242.49 239.70H244.20V241.48H242.49zM223.65 241.48H227.07V243.26H223.65zM237.35 241.48H244.20V243.26H237.35zM76.38 243.26H78.09V245.04H76.38zM134.60 243.26H136.31V245.04H134.60zM223.65 243.26H227.07V245.04H223.65zM237.35 243.26H240.77V245.04H237.35zM242.49 243.26H244.20V245.04H242.49zM223.65 245.04H227.07V246.82H223.65zM237.35 245.04H239.06V246.82H237.35zM240.77 245.04H244.20V246.82H240.77zM98.64 246.82H100.35V248.60H98.64zM155.15 246.82H156.86V248.60H155.15zM165.42 246.82H167.14V248.60H165.42zM215.09 246.82H216.80V248.60H215.09zM223.65 246.82H244.20V248.60H223.65z"/>
<rect x="25.25" y="20.95" width="218.70" height="227.40" fill="none" stroke="#1a1060" stroke-opacity="0.55" stroke-width="0.6"/>
<path d="M58.39 248.6v-2.2M58.39 20.7v2.2M25.0 55.42h2.2M244.2 55.42h-2.2" stroke="#262626" stroke-opacity="0.8" stroke-width="0.5" fill="none"/>
<text transform="translate(58.39 262) scale(0.934 1)" font-size="9.85" stroke="#222" stroke-width="0.2" text-anchor="middle">20</text>
<text transform="translate(21.40 58.82) scale(0.934 1)" font-size="9.85" stroke="#222" stroke-width="0.2" text-anchor="end">20</text>
<path d="M92.64 248.6v-2.2M92.64 20.7v2.2M25.0 91.03h2.2M244.2 91.03h-2.2" stroke="#262626" stroke-opacity="0.8" stroke-width="0.5" fill="none"/>
<text transform="translate(92.64 262) scale(0.934 1)" font-size="9.85" stroke="#222" stroke-width="0.2" text-anchor="middle">40</text>
<text transform="translate(21.40 94.43) scale(0.934 1)" font-size="9.85" stroke="#222" stroke-width="0.2" text-anchor="end">40</text>
<path d="M126.89 248.6v-2.2M126.89 20.7v2.2M25.0 126.64h2.2M244.2 126.64h-2.2" stroke="#262626" stroke-opacity="0.8" stroke-width="0.5" fill="none"/>
<text transform="translate(126.89 262) scale(0.934 1)" font-size="9.85" stroke="#222" stroke-width="0.2" text-anchor="middle">60</text>
<text transform="translate(21.40 130.04) scale(0.934 1)" font-size="9.85" stroke="#222" stroke-width="0.2" text-anchor="end">60</text>
<path d="M161.14 248.6v-2.2M161.14 20.7v2.2M25.0 162.25h2.2M244.2 162.25h-2.2" stroke="#262626" stroke-opacity="0.8" stroke-width="0.5" fill="none"/>
<text transform="translate(161.14 262) scale(0.934 1)" font-size="9.85" stroke="#222" stroke-width="0.2" text-anchor="middle">80</text>
<text transform="translate(21.40 165.65) scale(0.934 1)" font-size="9.85" stroke="#222" stroke-width="0.2" text-anchor="end">80</text>
<path d="M195.39 248.6v-2.2M195.39 20.7v2.2M25.0 197.86h2.2M244.2 197.86h-2.2" stroke="#262626" stroke-opacity="0.8" stroke-width="0.5" fill="none"/>
<text transform="translate(195.39 262) scale(0.934 1)" font-size="9.85" stroke="#222" stroke-width="0.2" text-anchor="middle">100</text>
<text transform="translate(21.40 201.26) scale(0.934 1)" font-size="9.85" stroke="#222" stroke-width="0.2" text-anchor="end">100</text>
<path d="M229.64 248.6v-2.2M229.64 20.7v2.2M25.0 233.47h2.2M244.2 233.47h-2.2" stroke="#262626" stroke-opacity="0.8" stroke-width="0.5" fill="none"/>
<text transform="translate(229.64 262) scale(0.934 1)" font-size="9.85" stroke="#222" stroke-width="0.2" text-anchor="middle">120</text>
<text transform="translate(21.40 236.87) scale(0.934 1)" font-size="9.85" stroke="#222" stroke-width="0.2" text-anchor="end">120</text>
<text x="133.90" y="16.4" font-size="10.25" text-anchor="middle" style="fill:#f00">Scenario 3: Network 2/ Layer 1</text>
<text y="276" font-size="10.35"><tspan x="91.40" font-style="italic">μ</tspan><tspan x="97.60" font-size="8.6" dy="4.6">0</tspan><tspan x="102.80" dy="-4.6">=0.2, c=10, M=2</tspan></text>
<text x="134.9" y="302.1" font-size="13.3" text-anchor="middle" style="font-family:'Liberation Serif',serif;font-weight:normal;fill:#111;stroke:#111;stroke-width:0.25">(c)</text>
<rect x="324.3" y="20.7" width="219.40" height="227.90" fill="#3E26A8"/>
<path fill="#FBF71A" d="M324.30 20.70H329.44V22.48H324.30zM338.01 20.70H339.73V22.48H338.01zM466.57 20.70H468.28V22.48H466.57zM497.42 20.70H499.13V22.48H497.42zM324.30 22.48H336.30V24.26H324.30zM338.01 22.48H339.73V24.26H338.01zM341.44 22.48H343.15V24.26H341.44zM375.72 22.48H377.44V24.26H375.72zM408.29 22.48H410.00V24.26H408.29zM481.99 22.48H483.71V24.26H481.99zM497.42 22.48H499.13V24.26H497.42zM324.30 24.26H329.44V26.04H324.30zM331.16 24.26H332.87V26.04H331.16zM338.01 24.26H341.44V26.04H338.01zM355.15 24.26H356.87V26.04H355.15zM408.29 24.26H410.00V26.04H408.29zM326.01 26.04H327.73V27.82H326.01zM329.44 26.04H332.87V27.82H329.44zM338.01 26.04H339.73V27.82H338.01zM504.28 26.04H505.99V27.82H504.28zM528.27 26.04H529.99V27.82H528.27zM326.01 27.82H332.87V29.60H326.01zM338.01 27.82H339.73V29.60H338.01zM341.44 27.82H343.15V29.60H341.44zM326.01 29.60H327.73V31.38H326.01zM332.87 29.60H334.58V31.38H332.87zM336.30 29.60H339.73V31.38H336.30zM408.29 29.60H410.00V31.38H408.29zM523.13 29.60H524.85V31.38H523.13zM326.01 31.38H327.73V33.16H326.01zM334.58 31.38H336.30V33.16H334.58zM338.01 31.38H339.73V33.16H338.01zM384.29 31.38H386.01V33.16H384.29zM332.87 33.16H334.58V34.94H332.87zM336.30 33.16H339.73V34.94H336.30zM341.44 33.16H343.15V34.94H341.44zM355.15 33.16H356.87V34.94H355.15zM324.30 34.94H341.44V36.72H324.30zM368.87 34.94H370.58V36.72H368.87zM399.72 34.94H401.43V36.72H399.72zM408.29 34.94H410.00V36.72H408.29zM449.43 34.94H451.14V36.72H449.43zM463.14 34.94H464.85V36.72H463.14zM476.85 34.94H480.28V36.72H476.85zM481.99 34.94H483.71V36.72H481.99zM497.42 34.94H499.13V36.72H497.42zM523.13 34.94H524.85V36.72H523.13zM528.27 34.94H531.70V36.72H528.27zM327.73 36.72H329.44V38.50H327.73zM338.01 36.72H343.15V38.50H338.01zM471.71 36.72H473.42V38.50H471.71zM538.56 36.72H540.27V38.50H538.56zM326.01 38.50H327.73V40.29H326.01zM331.16 38.50H332.87V40.29H331.16zM336.30 38.50H338.01V40.29H336.30zM339.73 38.50H343.15V40.29H339.73zM343.15 40.29H346.58V42.07H343.15zM348.30 40.29H350.01V42.07H348.30zM351.73 40.29H363.72V42.07H351.73zM365.44 40.29H367.15V42.07H365.44zM408.29 40.29H410.00V42.07H408.29zM449.43 40.29H451.14V42.07H449.43zM471.71 40.29H473.42V42.07H471.71zM497.42 40.29H499.13V42.07H497.42zM343.15 42.07H346.58V43.85H343.15zM348.30 42.07H350.01V43.85H348.30zM351.73 42.07H360.30V43.85H351.73zM346.58 43.85H350.01V45.63H346.58zM351.73 43.85H356.87V45.63H351.73zM375.72 43.85H377.44V45.63H375.72zM493.99 43.85H495.71V45.63H493.99zM343.15 45.63H351.73V47.41H343.15zM353.44 45.63H356.87V47.41H353.44zM360.30 45.63H362.01V47.41H360.30zM367.15 45.63H368.87V47.41H367.15zM497.42 45.63H499.13V47.41H497.42zM528.27 45.63H529.99V47.41H528.27zM348.30 47.41H351.73V49.19H348.30zM353.44 47.41H356.87V49.19H353.44zM406.58 47.41H408.29V49.19H406.58zM343.15 49.19H348.30V50.97H343.15zM351.73 49.19H356.87V50.97H351.73zM480.28 49.19H481.99V50.97H480.28zM343.15 50.97H356.87V52.75H343.15zM377.44 50.97H379.15V52.75H377.44zM461.43 50.97H463.14V52.75H461.43zM519.70 50.97H521.42V52.75H519.70zM538.56 50.97H540.27V52.75H538.56zM327.73 52.75H329.44V54.53H327.73zM336.30 52.75H338.01V54.53H336.30zM343.15 52.75H368.87V54.53H343.15zM387.72 52.75H389.43V54.53H387.72zM408.29 52.75H410.00V54.53H408.29zM439.14 52.75H440.86V54.53H439.14zM456.28 52.75H459.71V54.53H456.28zM471.71 52.75H473.42V54.53H471.71zM497.42 52.75H499.13V54.53H497.42zM509.42 52.75H511.13V54.53H509.42zM519.70 52.75H521.42V54.53H519.70zM343.15 54.53H346.58V56.31H343.15zM355.15 54.53H358.58V56.31H355.15zM471.71 54.53H473.42V56.31H471.71zM343.15 56.31H346.58V58.09H343.15zM355.15 56.31H356.87V58.09H355.15zM358.58 56.31H360.30V58.09H358.58zM439.14 56.31H440.86V58.09H439.14zM343.15 58.09H344.87V59.87H343.15zM348.30 58.09H350.01V59.87H348.30zM355.15 58.09H356.87V59.87H355.15zM360.30 58.09H363.72V59.87H360.30zM365.44 58.09H367.15V59.87H365.44zM509.42 58.09H511.13V59.87H509.42zM343.15 59.87H344.87V61.65H343.15zM355.15 59.87H356.87V61.65H355.15zM360.30 59.87H363.72V61.65H360.30zM459.71 59.87H461.43V61.65H459.71zM497.42 59.87H499.13V61.65H497.42zM355.15 61.65H356.87V63.43H355.15zM363.72 61.65H365.44V63.43H363.72zM343.15 63.43H344.87V65.21H343.15zM355.15 63.43H356.87V65.21H355.15zM360.30 63.43H362.01V65.21H360.30zM365.44 63.43H368.87V65.21H365.44zM497.42 63.43H500.85V65.21H497.42zM348.30 65.21H350.01V66.99H348.30zM355.15 65.21H356.87V66.99H355.15zM365.44 65.21H368.87V66.99H365.44zM497.42 65.21H499.13V66.99H497.42zM338.01 66.99H339.73V68.77H338.01zM368.87 66.99H370.58V68.77H368.87zM413.43 66.99H415.15V68.77H413.43zM422.00 66.99H423.72V68.77H422.00zM495.71 66.99H497.42V68.77H495.71zM370.58 68.77H372.29V70.55H370.58zM375.72 68.77H382.58V70.55H375.72zM386.01 68.77H389.43V70.55H386.01zM391.15 68.77H396.29V70.55H391.15zM398.00 68.77H401.43V70.55H398.00zM403.15 68.77H410.00V70.55H403.15zM411.72 68.77H415.15V70.55H411.72zM416.86 68.77H427.14V70.55H416.86zM471.71 68.77H473.42V70.55H471.71zM519.70 68.77H521.42V70.55H519.70zM372.29 70.55H384.29V72.33H372.29zM386.01 70.55H410.00V72.33H386.01zM411.72 70.55H422.00V72.33H411.72zM423.72 70.55H427.14V72.33H423.72zM444.28 70.55H446.00V72.33H444.28zM454.57 70.55H456.28V72.33H454.57zM531.70 70.55H533.42V72.33H531.70zM372.29 72.33H377.44V74.11H372.29zM379.15 72.33H380.86V74.11H379.15zM406.58 72.33H413.43V74.11H406.58zM326.01 74.11H327.73V75.89H326.01zM346.58 74.11H348.30V75.89H346.58zM370.58 74.11H384.29V75.89H370.58zM386.01 74.11H404.86V75.89H386.01zM406.58 74.11H423.72V75.89H406.58zM425.43 74.11H427.14V75.89H425.43zM444.28 74.11H447.71V75.89H444.28zM458.00 74.11H459.71V75.89H458.00zM471.71 74.11H473.42V75.89H471.71zM485.42 74.11H487.14V75.89H485.42zM502.56 74.11H504.28V75.89H502.56zM507.70 74.11H509.42V75.89H507.70zM516.28 74.11H517.99V75.89H516.28zM538.56 74.11H540.27V75.89H538.56zM353.44 75.89H355.15V77.67H353.44zM370.58 75.89H374.01V77.67H370.58zM375.72 75.89H380.86V77.67H375.72zM391.15 75.89H392.86V77.67H391.15zM398.00 75.89H399.72V77.67H398.00zM403.15 75.89H404.86V77.67H403.15zM406.58 75.89H413.43V77.67H406.58zM416.86 75.89H420.29V77.67H416.86zM425.43 75.89H427.14V77.67H425.43zM497.42 75.89H499.13V77.67H497.42zM370.58 77.67H380.86V79.46H370.58zM391.15 77.67H392.86V79.46H391.15zM398.00 77.67H399.72V79.46H398.00zM403.15 77.67H404.86V79.46H403.15zM406.58 77.67H410.00V79.46H406.58zM416.86 77.67H420.29V79.46H416.86zM521.42 77.67H523.13V79.46H521.42zM370.58 79.46H374.01V81.24H370.58zM375.72 79.46H377.44V81.24H375.72zM380.86 79.46H382.58V81.24H380.86zM389.43 79.46H391.15V81.24H389.43zM396.29 79.46H401.43V81.24H396.29zM403.15 79.46H410.00V81.24H403.15zM413.43 79.46H416.86V81.24H413.43zM372.29 81.24H374.01V83.02H372.29zM375.72 81.24H377.44V83.02H375.72zM382.58 81.24H384.29V83.02H382.58zM389.43 81.24H391.15V83.02H389.43zM394.58 81.24H398.00V83.02H394.58zM399.72 81.24H401.43V83.02H399.72zM403.15 81.24H406.58V83.02H403.15zM408.29 81.24H410.00V83.02H408.29zM418.57 81.24H420.29V83.02H418.57zM423.72 81.24H425.43V83.02H423.72zM334.58 83.02H336.30V84.80H334.58zM384.29 83.02H386.01V84.80H384.29zM394.58 83.02H398.00V84.80H394.58zM406.58 83.02H410.00V84.80H406.58zM442.57 83.02H444.28V84.80H442.57zM370.58 84.80H374.01V86.58H370.58zM375.72 84.80H377.44V86.58H375.72zM386.01 84.80H387.72V86.58H386.01zM404.86 84.80H410.00V86.58H404.86zM418.57 84.80H423.72V86.58H418.57zM355.15 86.58H356.87V88.36H355.15zM370.58 86.58H374.01V88.36H370.58zM375.72 86.58H377.44V88.36H375.72zM387.72 86.58H389.43V88.36H387.72zM396.29 86.58H398.00V88.36H396.29zM406.58 86.58H410.00V88.36H406.58zM413.43 86.58H415.15V88.36H413.43zM372.29 88.36H374.01V90.14H372.29zM375.72 88.36H377.44V90.14H375.72zM380.86 88.36H384.29V90.14H380.86zM389.43 88.36H391.15V90.14H389.43zM399.72 88.36H401.43V90.14H399.72zM403.15 88.36H404.86V90.14H403.15zM406.58 88.36H410.00V90.14H406.58zM370.58 90.14H374.01V91.92H370.58zM375.72 90.14H380.86V91.92H375.72zM391.15 90.14H394.58V91.92H391.15zM396.29 90.14H398.00V91.92H396.29zM406.58 90.14H410.00V91.92H406.58zM413.43 90.14H415.15V91.92H413.43zM370.58 91.92H374.01V93.70H370.58zM375.72 91.92H377.44V93.70H375.72zM391.15 91.92H396.29V93.70H391.15zM406.58 91.92H410.00V93.70H406.58zM413.43 91.92H415.15V93.70H413.43zM370.58 93.70H374.01V95.48H370.58zM375.72 93.70H377.44V95.48H375.72zM382.58 93.70H386.01V95.48H382.58zM392.86 93.70H398.00V95.48H392.86zM399.72 93.70H401.43V95.48H399.72zM406.58 93.70H410.00V95.48H406.58zM413.43 93.70H415.15V95.48H413.43zM416.86 93.70H418.57V95.48H416.86zM488.85 93.70H490.56V95.48H488.85zM372.29 95.48H374.01V97.26H372.29zM375.72 95.48H377.44V97.26H375.72zM380.86 95.48H386.01V97.26H380.86zM387.72 95.48H389.43V97.26H387.72zM391.15 95.48H392.86V97.26H391.15zM394.58 95.48H410.00V97.26H394.58zM411.72 95.48H420.29V97.26H411.72zM437.43 95.48H439.14V97.26H437.43zM524.85 95.48H526.56V97.26H524.85zM529.99 95.48H531.70V97.26H529.99zM538.56 95.48H540.27V97.26H538.56zM370.58 97.26H374.01V99.04H370.58zM375.72 97.26H382.58V99.04H375.72zM396.29 97.26H401.43V99.04H396.29zM338.01 99.04H339.73V100.82H338.01zM370.58 99.04H374.01V100.82H370.58zM375.72 99.04H377.44V100.82H375.72zM380.86 99.04H384.29V100.82H380.86zM389.43 99.04H391.15V100.82H389.43zM394.58 99.04H401.43V100.82H394.58zM406.58 99.04H411.72V100.82H406.58zM413.43 99.04H415.15V100.82H413.43zM497.42 99.04H499.13V100.82H497.42zM372.29 100.82H374.01V102.60H372.29zM375.72 100.82H377.44V102.60H375.72zM396.29 100.82H398.00V102.60H396.29zM401.43 100.82H403.15V102.60H401.43zM406.58 100.82H410.00V102.60H406.58zM413.43 100.82H415.15V102.60H413.43zM423.72 100.82H425.43V102.60H423.72zM370.58 102.60H374.01V104.38H370.58zM375.72 102.60H384.29V104.38H375.72zM389.43 102.60H391.15V104.38H389.43zM396.29 102.60H398.00V104.38H396.29zM403.15 102.60H404.86V104.38H403.15zM406.58 102.60H410.00V104.38H406.58zM415.15 102.60H416.86V104.38H415.15zM420.29 102.60H422.00V104.38H420.29zM509.42 102.60H511.13V104.38H509.42zM370.58 104.38H374.01V106.16H370.58zM380.86 104.38H384.29V106.16H380.86zM386.01 104.38H387.72V106.16H386.01zM396.29 104.38H398.00V106.16H396.29zM404.86 104.38H410.00V106.16H404.86zM411.72 104.38H418.57V106.16H411.72zM350.01 106.16H351.73V107.94H350.01zM370.58 106.16H382.58V107.94H370.58zM384.29 106.16H398.00V107.94H384.29zM399.72 106.16H427.14V107.94H399.72zM444.28 106.16H446.00V107.94H444.28zM471.71 106.16H473.42V107.94H471.71zM497.42 106.16H499.13V107.94H497.42zM519.70 106.16H521.42V107.94H519.70zM528.27 106.16H529.99V107.94H528.27zM326.01 107.94H329.44V109.72H326.01zM332.87 107.94H334.58V109.72H332.87zM338.01 107.94H339.73V109.72H338.01zM343.15 107.94H344.87V109.72H343.15zM355.15 107.94H356.87V109.72H355.15zM370.58 107.94H398.00V109.72H370.58zM399.72 107.94H410.00V109.72H399.72zM413.43 107.94H427.14V109.72H413.43zM434.00 107.94H435.71V109.72H434.00zM447.71 107.94H449.43V109.72H447.71zM480.28 107.94H481.99V109.72H480.28zM493.99 107.94H495.71V109.72H493.99zM512.85 107.94H514.56V109.72H512.85zM519.70 107.94H523.13V109.72H519.70zM374.01 109.72H379.15V111.50H374.01zM399.72 109.72H401.43V111.50H399.72zM406.58 109.72H408.29V111.50H406.58zM410.00 109.72H411.72V111.50H410.00zM413.43 109.72H415.15V111.50H413.43zM370.58 111.50H379.15V113.28H370.58zM396.29 111.50H398.00V113.28H396.29zM404.86 111.50H408.29V113.28H404.86zM411.72 111.50H413.43V113.28H411.72zM418.57 111.50H420.29V113.28H418.57zM368.87 113.28H374.01V115.06H368.87zM375.72 113.28H377.44V115.06H375.72zM380.86 113.28H382.58V115.06H380.86zM387.72 113.28H389.43V115.06H387.72zM391.15 113.28H398.00V115.06H391.15zM399.72 113.28H403.15V115.06H399.72zM404.86 113.28H411.72V115.06H404.86zM413.43 113.28H416.86V115.06H413.43zM423.72 113.28H425.43V115.06H423.72zM372.29 115.06H374.01V116.85H372.29zM375.72 115.06H377.44V116.85H375.72zM380.86 115.06H382.58V116.85H380.86zM396.29 115.06H398.00V116.85H396.29zM403.15 115.06H410.00V116.85H403.15zM413.43 115.06H418.57V116.85H413.43zM425.43 115.06H427.14V116.85H425.43zM446.00 115.06H447.71V116.85H446.00zM451.14 115.06H452.85V116.85H451.14zM471.71 115.06H473.42V116.85H471.71zM519.70 115.06H521.42V116.85H519.70zM370.58 116.85H374.01V118.63H370.58zM375.72 116.85H380.86V118.63H375.72zM394.58 116.85H398.00V118.63H394.58zM404.86 116.85H410.00V118.63H404.86zM415.15 116.85H418.57V118.63H415.15zM423.72 116.85H425.43V118.63H423.72zM370.58 118.63H374.01V120.41H370.58zM375.72 118.63H380.86V120.41H375.72zM382.58 118.63H384.29V120.41H382.58zM386.01 118.63H387.72V120.41H386.01zM396.29 118.63H398.00V120.41H396.29zM406.58 118.63H410.00V120.41H406.58zM411.72 118.63H413.43V120.41H411.72zM418.57 118.63H420.29V120.41H418.57zM422.00 118.63H423.72V120.41H422.00zM370.58 120.41H374.01V122.19H370.58zM375.72 120.41H377.44V122.19H375.72zM386.01 120.41H387.72V122.19H386.01zM403.15 120.41H404.86V122.19H403.15zM406.58 120.41H410.00V122.19H406.58zM420.29 120.41H422.00V122.19H420.29zM368.87 122.19H372.29V123.97H368.87zM375.72 122.19H377.44V123.97H375.72zM386.01 122.19H387.72V123.97H386.01zM406.58 122.19H410.00V123.97H406.58zM418.57 122.19H420.29V123.97H418.57zM422.00 122.19H423.72V123.97H422.00zM370.58 123.97H374.01V125.75H370.58zM382.58 123.97H384.29V125.75H382.58zM401.43 123.97H403.15V125.75H401.43zM406.58 123.97H410.00V125.75H406.58zM413.43 123.97H415.15V125.75H413.43zM416.86 123.97H418.57V125.75H416.86zM423.72 123.97H425.43V125.75H423.72zM519.70 123.97H521.42V125.75H519.70zM370.58 125.75H374.01V127.53H370.58zM375.72 125.75H379.15V127.53H375.72zM406.58 125.75H410.00V127.53H406.58zM415.15 125.75H416.86V127.53H415.15zM425.43 125.75H427.14V127.53H425.43zM519.70 125.75H521.42V127.53H519.70zM427.14 127.53H430.57V129.31H427.14zM434.00 127.53H435.71V129.31H434.00zM439.14 127.53H440.86V129.31H439.14zM451.14 127.53H454.57V129.31H451.14zM458.00 127.53H459.71V129.31H458.00zM427.14 129.31H430.57V131.09H427.14zM434.00 129.31H435.71V131.09H434.00zM437.43 129.31H447.71V131.09H437.43zM449.43 129.31H458.00V131.09H449.43zM461.43 129.31H464.85V131.09H461.43zM470.00 129.31H471.71V131.09H470.00zM475.14 129.31H476.85V131.09H475.14zM487.14 129.31H488.85V131.09H487.14zM511.13 129.31H512.85V131.09H511.13zM430.57 131.09H432.29V132.87H430.57zM434.00 131.09H435.71V132.87H434.00zM442.57 131.09H446.00V132.87H442.57zM461.43 131.09H464.85V132.87H461.43zM432.29 132.87H434.00V134.65H432.29zM437.43 132.87H439.14V134.65H437.43zM446.00 132.87H454.57V134.65H446.00zM458.00 132.87H459.71V134.65H458.00zM461.43 132.87H466.57V134.65H461.43zM408.29 134.65H410.00V136.43H408.29zM427.14 134.65H432.29V136.43H427.14zM434.00 134.65H437.43V136.43H434.00zM442.57 134.65H444.28V136.43H442.57zM447.71 134.65H463.14V136.43H447.71zM497.42 134.65H499.13V136.43H497.42zM434.00 136.43H439.14V138.21H434.00zM442.57 136.43H444.28V138.21H442.57zM452.85 136.43H454.57V138.21H452.85zM458.00 136.43H459.71V138.21H458.00zM471.71 136.43H473.42V138.21H471.71zM396.29 138.21H398.00V139.99H396.29zM428.86 138.21H430.57V139.99H428.86zM432.29 138.21H434.00V139.99H432.29zM435.71 138.21H440.86V139.99H435.71zM449.43 138.21H451.14V139.99H449.43zM355.15 139.99H356.87V141.77H355.15zM358.58 139.99H360.30V141.77H358.58zM427.14 139.99H430.57V141.77H427.14zM437.43 139.99H444.28V141.77H437.43zM447.71 139.99H459.71V141.77H447.71zM463.14 139.99H464.85V141.77H463.14zM428.86 141.77H430.57V143.55H428.86zM439.14 141.77H442.57V143.55H439.14zM447.71 141.77H449.43V143.55H447.71zM384.29 143.55H386.01V145.33H384.29zM428.86 143.55H432.29V145.33H428.86zM434.00 143.55H437.43V145.33H434.00zM439.14 143.55H440.86V145.33H439.14zM442.57 143.55H444.28V145.33H442.57zM446.00 143.55H449.43V145.33H446.00zM451.14 143.55H454.57V145.33H451.14zM456.28 143.55H458.00V145.33H456.28zM461.43 143.55H464.85V145.33H461.43zM497.42 143.55H499.13V145.33H497.42zM509.42 143.55H511.13V145.33H509.42zM519.70 143.55H521.42V145.33H519.70zM372.29 145.33H374.01V147.11H372.29zM375.72 145.33H377.44V147.11H375.72zM406.58 145.33H408.29V147.11H406.58zM428.86 145.33H432.29V147.11H428.86zM444.28 145.33H447.71V147.11H444.28zM452.85 145.33H454.57V147.11H452.85zM459.71 145.33H464.85V147.11H459.71zM519.70 145.33H521.42V147.11H519.70zM375.72 147.11H377.44V148.89H375.72zM415.15 147.11H416.86V148.89H415.15zM428.86 147.11H430.57V148.89H428.86zM432.29 147.11H434.00V148.89H432.29zM442.57 147.11H447.71V148.89H442.57zM449.43 147.11H451.14V148.89H449.43zM461.43 147.11H464.85V148.89H461.43zM466.57 147.11H468.28V148.89H466.57zM497.42 147.11H499.13V148.89H497.42zM531.70 147.11H533.42V148.89H531.70zM408.29 148.89H410.00V150.67H408.29zM432.29 148.89H435.71V150.67H432.29zM439.14 148.89H444.28V150.67H439.14zM447.71 148.89H449.43V150.67H447.71zM452.85 148.89H454.57V150.67H452.85zM461.43 148.89H464.85V150.67H461.43zM338.01 150.67H339.73V152.45H338.01zM343.15 150.67H344.87V152.45H343.15zM428.86 150.67H430.57V152.45H428.86zM432.29 150.67H435.71V152.45H432.29zM437.43 150.67H440.86V152.45H437.43zM446.00 150.67H447.71V152.45H446.00zM449.43 150.67H451.14V152.45H449.43zM459.71 150.67H464.85V152.45H459.71zM415.15 152.45H416.86V154.24H415.15zM427.14 152.45H430.57V154.24H427.14zM432.29 152.45H435.71V154.24H432.29zM439.14 152.45H440.86V154.24H439.14zM442.57 152.45H444.28V154.24H442.57zM451.14 152.45H452.85V154.24H451.14zM458.00 152.45H459.71V154.24H458.00zM461.43 152.45H463.14V154.24H461.43zM427.14 154.24H430.57V156.02H427.14zM432.29 154.24H437.43V156.02H432.29zM439.14 154.24H440.86V156.02H439.14zM442.57 154.24H446.00V156.02H442.57zM447.71 154.24H449.43V156.02H447.71zM452.85 154.24H456.28V156.02H452.85zM461.43 154.24H463.14V156.02H461.43zM471.71 154.24H473.42V156.02H471.71zM372.29 156.02H374.01V157.80H372.29zM428.86 156.02H430.57V157.80H428.86zM434.00 156.02H435.71V157.80H434.00zM439.14 156.02H440.86V157.80H439.14zM452.85 156.02H456.28V157.80H452.85zM458.00 156.02H459.71V157.80H458.00zM464.85 156.02H466.57V157.80H464.85zM509.42 156.02H511.13V157.80H509.42zM355.15 157.80H356.87V159.58H355.15zM428.86 157.80H430.57V159.58H428.86zM434.00 157.80H435.71V159.58H434.00zM439.14 157.80H440.86V159.58H439.14zM442.57 157.80H444.28V159.58H442.57zM456.28 157.80H458.00V159.58H456.28zM461.43 157.80H463.14V159.58H461.43zM355.15 159.58H356.87V161.36H355.15zM375.72 159.58H377.44V161.36H375.72zM427.14 159.58H428.86V161.36H427.14zM432.29 159.58H437.43V161.36H432.29zM439.14 159.58H440.86V161.36H439.14zM451.14 159.58H452.85V161.36H451.14zM454.57 159.58H456.28V161.36H454.57zM458.00 159.58H459.71V161.36H458.00zM461.43 159.58H463.14V161.36H461.43zM466.57 159.58H468.28V161.36H466.57zM538.56 159.58H540.27V161.36H538.56zM362.01 161.36H363.72V163.14H362.01zM434.00 161.36H435.71V163.14H434.00zM444.28 161.36H446.00V163.14H444.28zM449.43 161.36H451.14V163.14H449.43zM459.71 161.36H463.14V163.14H459.71zM512.85 161.36H514.56V163.14H512.85zM353.44 163.14H355.15V164.92H353.44zM428.86 163.14H435.71V164.92H428.86zM442.57 163.14H454.57V164.92H442.57zM456.28 163.14H468.28V164.92H456.28zM473.42 163.14H475.14V164.92H473.42zM338.01 164.92H339.73V166.70H338.01zM428.86 164.92H434.00V166.70H428.86zM439.14 164.92H440.86V166.70H439.14zM442.57 164.92H451.14V166.70H442.57zM461.43 164.92H468.28V166.70H461.43zM476.85 164.92H478.57V166.70H476.85zM541.99 164.92H543.70V166.70H541.99zM432.29 166.70H434.00V168.48H432.29zM454.57 166.70H456.28V168.48H454.57zM461.43 166.70H466.57V168.48H461.43zM324.30 168.48H326.01V170.26H324.30zM446.00 168.48H447.71V170.26H446.00zM458.00 168.48H459.71V170.26H458.00zM461.43 168.48H464.85V170.26H461.43zM466.57 168.48H468.28V170.26H466.57zM468.28 170.26H471.71V172.04H468.28zM507.70 170.26H509.42V172.04H507.70zM531.70 170.26H533.42V172.04H531.70zM428.86 172.04H430.57V173.82H428.86zM468.28 172.04H471.71V173.82H468.28zM339.73 173.82H341.44V175.60H339.73zM343.15 173.82H344.87V175.60H343.15zM355.15 173.82H358.58V175.60H355.15zM370.58 173.82H372.29V175.60H370.58zM375.72 173.82H377.44V175.60H375.72zM406.58 173.82H408.29V175.60H406.58zM415.15 173.82H416.86V175.60H415.15zM435.71 173.82H437.43V175.60H435.71zM452.85 173.82H454.57V175.60H452.85zM471.71 173.82H490.56V175.60H471.71zM497.42 173.82H499.13V175.60H497.42zM461.43 175.60H463.14V177.38H461.43zM471.71 175.60H478.57V177.38H471.71zM480.28 175.60H481.99V177.38H480.28zM483.71 175.60H490.56V177.38H483.71zM428.86 177.38H430.57V179.16H428.86zM471.71 177.38H476.85V179.16H471.71zM478.57 177.38H480.28V179.16H478.57zM338.01 179.16H339.73V180.94H338.01zM463.14 179.16H464.85V180.94H463.14zM471.71 179.16H475.14V180.94H471.71zM476.85 179.16H481.99V180.94H476.85zM338.01 180.94H339.73V182.72H338.01zM471.71 180.94H473.42V182.72H471.71zM475.14 180.94H490.56V182.72H475.14zM351.73 182.72H353.44V184.50H351.73zM408.29 182.72H410.00V184.50H408.29zM471.71 182.72H475.14V184.50H471.71zM476.85 182.72H483.71V184.50H476.85zM485.42 182.72H488.85V184.50H485.42zM326.01 184.50H327.73V186.28H326.01zM338.01 184.50H339.73V186.28H338.01zM471.71 184.50H473.42V186.28H471.71zM478.57 184.50H483.71V186.28H478.57zM519.70 184.50H521.42V186.28H519.70zM471.71 186.28H475.14V188.06H471.71zM478.57 186.28H480.28V188.06H478.57zM483.71 186.28H485.42V188.06H483.71zM375.72 188.06H377.44V189.84H375.72zM471.71 188.06H475.14V189.84H471.71zM478.57 188.06H481.99V189.84H478.57zM485.42 188.06H487.14V189.84H485.42zM488.85 188.06H490.56V189.84H488.85zM505.99 188.06H507.70V189.84H505.99zM428.86 189.84H430.57V191.62H428.86zM471.71 189.84H475.14V191.62H471.71zM478.57 189.84H481.99V191.62H478.57zM487.14 189.84H488.85V191.62H487.14zM394.58 191.62H396.29V193.41H394.58zM471.71 191.62H475.14V193.41H471.71zM478.57 191.62H480.28V193.41H478.57zM485.42 191.62H487.14V193.41H485.42zM488.85 191.62H490.56V193.41H488.85zM490.56 193.41H492.28V195.19H490.56zM493.99 193.41H499.13V195.19H493.99zM492.28 195.19H493.99V196.97H492.28zM495.71 195.19H499.13V196.97H495.71zM346.58 196.97H348.30V198.75H346.58zM408.29 196.97H410.00V198.75H408.29zM490.56 196.97H492.28V198.75H490.56zM493.99 196.97H499.13V198.75H493.99zM502.56 196.97H504.28V198.75H502.56zM507.70 196.97H509.42V198.75H507.70zM368.87 198.75H370.58V200.53H368.87zM490.56 198.75H502.56V200.53H490.56zM504.28 198.75H505.99V200.53H504.28zM509.42 198.75H511.13V200.53H509.42zM324.30 200.53H327.73V202.31H324.30zM338.01 200.53H339.73V202.31H338.01zM343.15 200.53H344.87V202.31H343.15zM348.30 200.53H350.01V202.31H348.30zM355.15 200.53H356.87V202.31H355.15zM362.01 200.53H363.72V202.31H362.01zM365.44 200.53H368.87V202.31H365.44zM377.44 200.53H379.15V202.31H377.44zM399.72 200.53H401.43V202.31H399.72zM406.58 200.53H408.29V202.31H406.58zM434.00 200.53H435.71V202.31H434.00zM442.57 200.53H444.28V202.31H442.57zM446.00 200.53H447.71V202.31H446.00zM471.71 200.53H473.42V202.31H471.71zM490.56 200.53H512.85V202.31H490.56zM517.99 200.53H521.42V202.31H517.99zM365.44 202.31H367.15V204.09H365.44zM495.71 202.31H500.85V204.09H495.71zM505.99 202.31H507.70V204.09H505.99zM509.42 202.31H511.13V204.09H509.42zM495.71 204.09H499.13V205.87H495.71zM500.85 204.09H502.56V205.87H500.85zM507.70 204.09H509.42V205.87H507.70zM511.13 204.09H512.85V205.87H511.13zM375.72 205.87H377.44V207.65H375.72zM493.99 205.87H495.71V207.65H493.99zM497.42 205.87H499.13V207.65H497.42zM502.56 205.87H504.28V207.65H502.56zM329.44 207.65H331.16V209.43H329.44zM495.71 207.65H499.13V209.43H495.71zM504.28 207.65H505.99V209.43H504.28zM485.42 209.43H487.14V211.21H485.42zM497.42 209.43H500.85V211.21H497.42zM505.99 209.43H507.70V211.21H505.99zM509.42 209.43H511.13V211.21H509.42zM375.72 211.21H377.44V212.99H375.72zM468.28 211.21H470.00V212.99H468.28zM493.99 211.21H495.71V212.99H493.99zM497.42 211.21H499.13V212.99H497.42zM500.85 211.21H502.56V212.99H500.85zM507.70 211.21H509.42V212.99H507.70zM355.15 212.99H356.87V214.77H355.15zM360.30 212.99H362.01V214.77H360.30zM403.15 212.99H404.86V214.77H403.15zM442.57 212.99H444.28V214.77H442.57zM454.57 212.99H456.28V214.77H454.57zM495.71 212.99H500.85V214.77H495.71zM505.99 212.99H507.70V214.77H505.99zM509.42 212.99H512.85V214.77H509.42zM519.70 212.99H521.42V214.77H519.70zM428.86 214.77H430.57V216.55H428.86zM497.42 214.77H499.13V216.55H497.42zM500.85 214.77H502.56V216.55H500.85zM509.42 214.77H512.85V216.55H509.42zM408.29 216.55H410.00V218.33H408.29zM459.71 216.55H461.43V218.33H459.71zM512.85 216.55H514.56V218.33H512.85zM516.28 216.55H519.70V218.33H516.28zM514.56 218.33H516.28V220.11H514.56zM519.70 218.33H521.42V220.11H519.70zM375.72 220.11H377.44V221.89H375.72zM512.85 220.11H514.56V221.89H512.85zM516.28 220.11H517.99V221.89H516.28zM521.42 220.11H523.13V221.89H521.42zM497.42 221.89H499.13V223.67H497.42zM512.85 221.89H514.56V223.67H512.85zM517.99 221.89H519.70V223.67H517.99zM521.42 221.89H523.13V223.67H521.42zM538.56 221.89H540.27V223.67H538.56zM353.44 223.67H356.87V225.45H353.44zM370.58 223.67H372.29V225.45H370.58zM406.58 223.67H410.00V225.45H406.58zM415.15 223.67H416.86V225.45H415.15zM423.72 223.67H427.14V225.45H423.72zM442.57 223.67H446.00V225.45H442.57zM481.99 223.67H483.71V225.45H481.99zM497.42 223.67H499.13V225.45H497.42zM509.42 223.67H511.13V225.45H509.42zM514.56 223.67H516.28V225.45H514.56zM519.70 223.67H523.13V225.45H519.70zM379.15 225.45H380.86V227.23H379.15zM408.29 225.45H410.00V227.23H408.29zM516.28 225.45H523.13V227.23H516.28zM332.87 227.23H334.58V229.01H332.87zM338.01 227.23H339.73V229.01H338.01zM523.13 227.23H524.85V229.01H523.13zM526.56 227.23H529.99V229.01H526.56zM531.70 227.23H540.27V229.01H531.70zM541.99 227.23H543.70V229.01H541.99zM396.29 229.01H398.00V230.80H396.29zM524.85 229.01H526.56V230.80H524.85zM531.70 229.01H533.42V230.80H531.70zM535.13 229.01H540.27V230.80H535.13zM523.13 230.80H524.85V232.58H523.13zM526.56 230.80H529.99V232.58H526.56zM531.70 230.80H535.13V232.58H531.70zM538.56 230.80H540.27V232.58H538.56zM541.99 230.80H543.70V232.58H541.99zM329.44 232.58H331.16V234.36H329.44zM338.01 232.58H339.73V234.36H338.01zM348.30 232.58H350.01V234.36H348.30zM406.58 232.58H408.29V234.36H406.58zM523.13 232.58H524.85V234.36H523.13zM526.56 232.58H529.99V234.36H526.56zM533.42 232.58H535.13V234.36H533.42zM538.56 232.58H540.27V234.36H538.56zM338.01 234.36H339.73V236.14H338.01zM396.29 234.36H398.00V236.14H396.29zM529.99 234.36H531.70V236.14H529.99zM538.56 234.36H540.27V236.14H538.56zM541.99 234.36H543.70V236.14H541.99zM372.29 236.14H374.01V237.92H372.29zM446.00 236.14H447.71V237.92H446.00zM468.28 236.14H470.00V237.92H468.28zM523.13 236.14H528.27V237.92H523.13zM531.70 236.14H536.84V237.92H531.70zM538.56 236.14H540.27V237.92H538.56zM523.13 237.92H524.85V239.70H523.13zM526.56 237.92H529.99V239.70H526.56zM531.70 237.92H535.13V239.70H531.70zM538.56 237.92H540.27V239.70H538.56zM541.99 237.92H543.70V239.70H541.99zM523.13 239.70H526.56V241.48H523.13zM531.70 239.70H533.42V241.48H531.70zM535.13 239.70H536.84V241.48H535.13zM538.56 239.70H540.27V241.48H538.56zM523.13 241.48H526.56V243.26H523.13zM536.84 241.48H540.27V243.26H536.84zM339.73 243.26H341.44V245.04H339.73zM353.44 243.26H355.15V245.04H353.44zM375.72 243.26H377.44V245.04H375.72zM396.29 243.26H398.00V245.04H396.29zM458.00 243.26H459.71V245.04H458.00zM517.99 243.26H519.70V245.04H517.99zM523.13 243.26H543.70V245.04H523.13zM538.56 245.04H543.70V246.82H538.56zM463.14 246.82H464.85V248.60H463.14zM523.13 246.82H524.85V248.60H523.13zM526.56 246.82H528.27V248.60H526.56zM529.99 246.82H531.70V248.60H529.99zM533.42 246.82H535.13V248.60H533.42zM538.56 246.82H543.70V248.60H538.56z"/>
<rect x="324.55" y="20.95" width="218.90" height="227.40" fill="none" stroke="#1a1060" stroke-opacity="0.55" stroke-width="0.6"/>
<path d="M357.72 248.6v-2.2M357.72 20.7v2.2M324.3 55.42h2.2M543.7 55.42h-2.2" stroke="#262626" stroke-opacity="0.8" stroke-width="0.5" fill="none"/>
<text transform="translate(357.72 262) scale(0.934 1)" font-size="9.85" stroke="#222" stroke-width="0.2" text-anchor="middle">20</text>
<text transform="translate(320.70 58.82) scale(0.934 1)" font-size="9.85" stroke="#222" stroke-width="0.2" text-anchor="end">20</text>
<path d="M392.01 248.6v-2.2M392.01 20.7v2.2M324.3 91.03h2.2M543.7 91.03h-2.2" stroke="#262626" stroke-opacity="0.8" stroke-width="0.5" fill="none"/>
<text transform="translate(392.01 262) scale(0.934 1)" font-size="9.85" stroke="#222" stroke-width="0.2" text-anchor="middle">40</text>
<text transform="translate(320.70 94.43) scale(0.934 1)" font-size="9.85" stroke="#222" stroke-width="0.2" text-anchor="end">40</text>
<path d="M426.29 248.6v-2.2M426.29 20.7v2.2M324.3 126.64h2.2M543.7 126.64h-2.2" stroke="#262626" stroke-opacity="0.8" stroke-width="0.5" fill="none"/>
<text transform="translate(426.29 262) scale(0.934 1)" font-size="9.85" stroke="#222" stroke-width="0.2" text-anchor="middle">60</text>
<text transform="translate(320.70 130.04) scale(0.934 1)" font-size="9.85" stroke="#222" stroke-width="0.2" text-anchor="end">60</text>
<path d="M460.57 248.6v-2.2M460.57 20.7v2.2M324.3 162.25h2.2M543.7 162.25h-2.2" stroke="#262626" stroke-opacity="0.8" stroke-width="0.5" fill="none"/>
<text transform="translate(460.57 262) scale(0.934 1)" font-size="9.85" stroke="#222" stroke-width="0.2" text-anchor="middle">80</text>
<text transform="translate(320.70 165.65) scale(0.934 1)" font-size="9.85" stroke="#222" stroke-width="0.2" text-anchor="end">80</text>
<path d="M494.85 248.6v-2.2M494.85 20.7v2.2M324.3 197.86h2.2M543.7 197.86h-2.2" stroke="#262626" stroke-opacity="0.8" stroke-width="0.5" fill="none"/>
<text transform="translate(494.85 262) scale(0.934 1)" font-size="9.85" stroke="#222" stroke-width="0.2" text-anchor="middle">100</text>
<text transform="translate(320.70 201.26) scale(0.934 1)" font-size="9.85" stroke="#222" stroke-width="0.2" text-anchor="end">100</text>
<path d="M529.13 248.6v-2.2M529.13 20.7v2.2M324.3 233.47h2.2M543.7 233.47h-2.2" stroke="#262626" stroke-opacity="0.8" stroke-width="0.5" fill="none"/>
<text transform="translate(529.13 262) scale(0.934 1)" font-size="9.85" stroke="#222" stroke-width="0.2" text-anchor="middle">120</text>
<text transform="translate(320.70 236.87) scale(0.934 1)" font-size="9.85" stroke="#222" stroke-width="0.2" text-anchor="end">120</text>
<text x="433.30" y="16.4" font-size="10.25" text-anchor="middle" style="fill:#f00">Scenario 3: Network 2/ Layer 2</text>
<text y="276" font-size="10.35"><tspan x="390.80" font-style="italic">μ</tspan><tspan x="397.00" font-size="8.6" dy="4.6">0</tspan><tspan x="402.20" dy="-4.6">=0.2, c=10, M=2</tspan></text>
<text x="424.4" y="302.1" font-size="13.3" text-anchor="middle" style="font-family:'Liberation Serif',serif;font-weight:normal;fill:#111;stroke:#111;stroke-width:0.25">(d)</text>
</svg></body></html>
